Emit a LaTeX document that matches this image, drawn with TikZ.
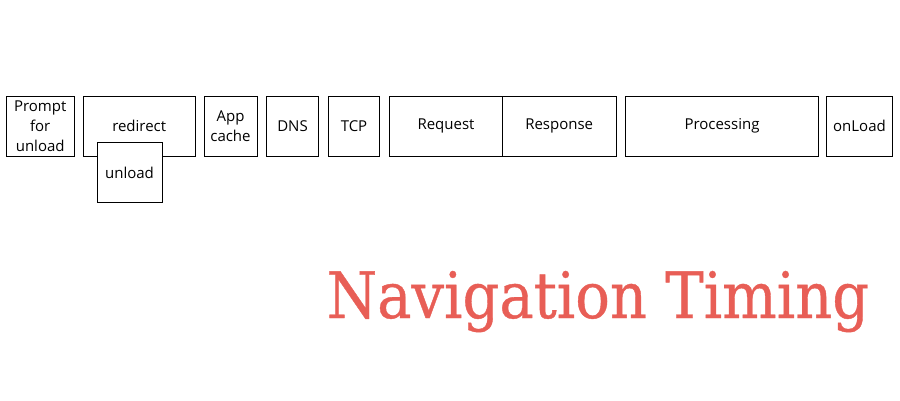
\documentclass[tikz,border=0pt]{standalone}
\usepackage{fontspec}
\setmainfont{Open Sans}
\newfontfamily\titlefont[FakeStretch=0.9,FakeBold=0.6]{DejaVu Serif}
\definecolor{NavRed}{RGB}{232,94,86}
\def\NavRed{NavRed}

\begin{document}
\begin{tikzpicture}
    [x=1pt,y=-1pt,
    phase/.style={rectangle,draw=black,line width=0.9pt,fill=white,align=center,inner sep=0pt,
      minimum height=60pt,font=\fontsize{15}{20}\selectfont},
    ]
    \useasboundingbox (0,0) rectangle (900,400);
    \node[phase, minimum width=68.5pt] (prompt) at (40.2,126) {Prompt\\for\\unload};
    \node[phase, minimum width=112.5pt] (redirect) at (139.2,126) {redirect};
    \node[phase, minimum width=65pt] (unload) at (129.5,172.5) {unload};
    \node[phase, minimum width=53pt] (appcache) at (230.5,126) {App\\cache};
    \node[phase, minimum width=52pt] (dns) at (292.5,126) {DNS};
    \node[phase, minimum width=51pt] (tcp) at (354,126) {TCP};
    \node[phase, minimum width=113pt] (request) at (446,126) {Request};
    \node[phase, minimum width=113.5pt] (response) at (559.2,126) {Response};
    \node[phase, minimum width=193pt] (processing) at (722,126) {Processing};
    \node[phase, minimum width=66pt] (onload) at (859.5,126) {onLoad};
    \node[anchor=base, text=\NavRed, font=\titlefont\fontsize{64}{70}\selectfont] (title) at (598,318) {Navigation Timing};
  \end{tikzpicture}
\end{document}
